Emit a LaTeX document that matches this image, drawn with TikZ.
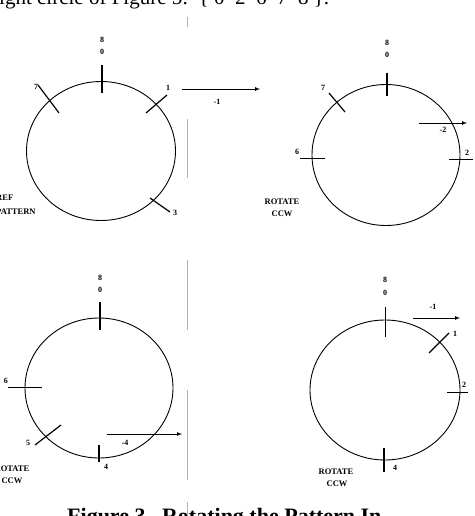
\documentclass[tikz,border=0pt]{standalone}
\usepackage{fontspec}
\setmainfont{Liberation Serif}
\tikzset{
  ring/.style={line width=0.9pt},
  tickmark/.style={line width=1.2pt},
  thintick/.style={line width=0.8pt},
  lab/.style={font=\fontsize{8}{9}\selectfont\bfseries, inner sep=0pt},
  word/.style={font=\fontsize{8.5}{9}\selectfont\bfseries, inner sep=0pt},
  fold/.style={gray!60, line width=1pt},
  movearrow/.style={-latex, line width=0.7pt},
}
\begin{document}
\begin{tikzpicture}[x=1pt,y=-1pt]
\useasboundingbox (0,0) rectangle (474,516);
% text above and caption below, cut by the page
\node[anchor=base west, inner sep=0pt, font=\fontsize{21}{22}\selectfont] (toptext) at (-8,5) {right circle of Figure 5:\ \ \{ 0 \ 2 \ 6 \ 7 \ 8 \}.};
\node[anchor=base west, inner sep=0pt, font=\fontsize{22}{23}\selectfont\bfseries] (caption) at (67,523.5) {Figure 3.\ \ Rotating the Pattern In};
% fold line
\draw[fold] (187,17) -- (187,27);
\draw[fold] (187,119) -- (187,178);
\draw[fold] (187,260) -- (187,330);
\draw[fold] (187,390) -- (187,480);
\draw[fold] (187,502) -- (187,516);

% ref pattern
\draw[ring] (101,151) ellipse [x radius=74.5, y radius=69.5];
\draw[tickmark] (102,65) -- (102,93);
\draw[tickmark] (38,85) -- (59,113);
\draw[tickmark] (167,95) -- (146,113);
\draw[tickmark] (150,198) -- (170,212);
\node[lab] (refeight) at (102,40) {8};
\node[lab] (refzero) at (102,52) {0};
\node[lab] (refseven) at (36,87) {7};
\node[lab] (refone) at (168,88) {1};
\node[lab] (refthree) at (175,213) {3};
\node[word, anchor=west] (refa) at (-4,198) {REF};
\node[word, anchor=west] (refb) at (-4,212) {PATTERN};
\coordinate (arrAs) at (182,89);
\coordinate (arrAe) at (260,89);
\draw[movearrow] (arrAs) -- (arrAe);
\node[lab] (arrAl) at (217,102) {-1};

% first rotation
\draw[ring] (386,155) ellipse [x radius=74, y radius=70.5];
\draw[tickmark] (387,73) -- (387,96);
\draw[tickmark] (329,93) -- (345,112);
\draw[thintick] (300,158) -- (325,158);
\draw[thintick] (449,159) -- (473,159);
\node[lab] (oneeight) at (387,43) {8};
\node[lab] (onezero) at (387,55) {0};
\node[lab] (oneseven) at (323,88) {7};
\node[lab] (onesix) at (297,152) {6};
\node[lab] (onetwo) at (467,153) {2};
\node[word] (onea) at (282,202) {ROTATE};
\node[word] (oneb) at (282,214) {CCW};
\coordinate (arrBs) at (419,123);
\coordinate (arrBe) at (467,123);
\draw[movearrow] (arrBs) -- (arrBe);
\node[lab] (arrBl) at (443,130) {-2};

% second rotation
\draw[ring] (99,388) ellipse [x radius=74, y radius=70];
\draw[tickmark] (100,302) -- (100,330);
\draw[thintick] (8,387) -- (42,387);
\draw[tickmark] (35,445) -- (61,425);
\draw[tickmark] (99,445) -- (99,462);
\node[lab] (twoeight) at (100,278) {8};
\node[lab] (twozero) at (100,290) {0};
\node[lab] (twosix) at (6,381) {6};
\node[lab] (twofive) at (28,443) {5};
\node[lab] (twofour) at (106,467) {4};
\node[word] (twoa) at (12,469) {ROTATE};
\node[word] (twob) at (12,481) {CCW};
\coordinate (arrCs) at (107,434);
\coordinate (arrCe) at (182,434);
\draw[movearrow] (arrCs) -- (arrCe);
\node[lab] (arrCl) at (125,443) {-4};

% third rotation
\draw[ring] (385,390) ellipse [x radius=75, y radius=70];
\draw[thintick] (385,307) -- (385,337);
\draw[tickmark] (429,353) -- (449,333);
\draw[thintick] (447,392) -- (468,392);
\draw[tickmark] (384,448) -- (384,472);
\node[lab] (threeeight) at (385,280) {8};
\node[lab] (threezero) at (385,293) {0};
\node[lab] (threeone) at (455,334) {1};
\node[lab] (threetwo) at (464,385) {2};
\node[lab] (threefour) at (395,468) {4};
\node[word] (threea) at (336,472) {ROTATE};
\node[word] (threeb) at (337,484) {CCW};
\coordinate (arrDs) at (413,318);
\coordinate (arrDe) at (460,318);
\draw[movearrow] (arrDs) -- (arrDe);
\node[lab] (arrDl) at (433,307) {-1};
\end{tikzpicture}
\end{document}
